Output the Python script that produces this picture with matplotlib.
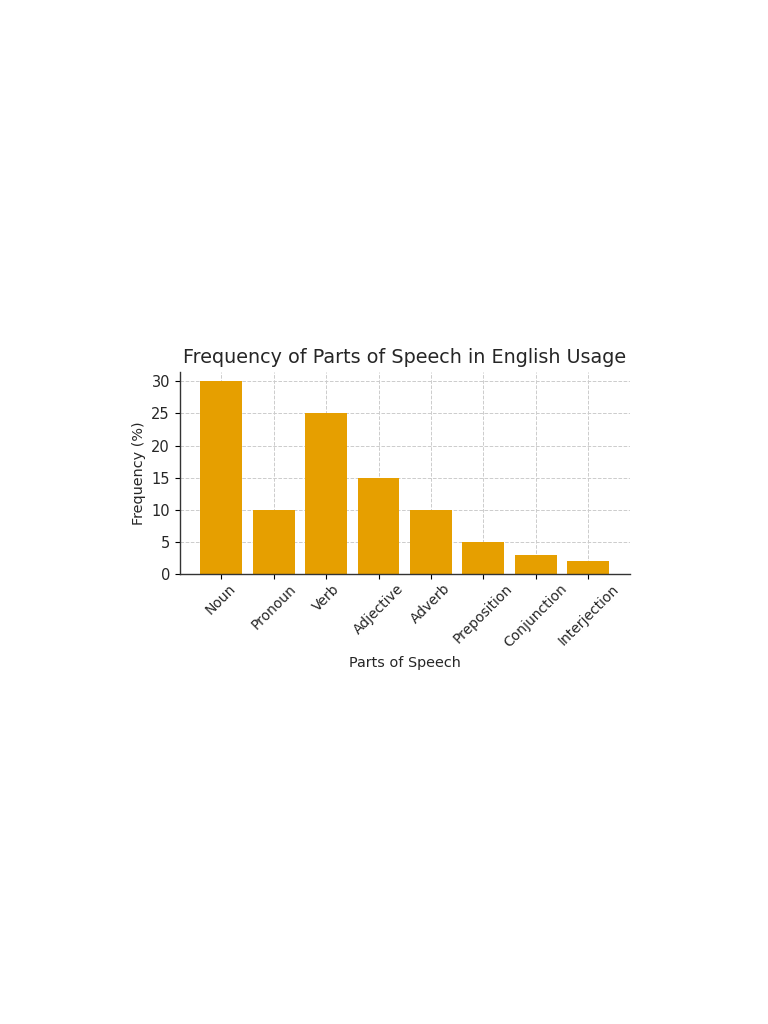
import matplotlib
matplotlib.use("Agg")
import matplotlib.pyplot as plt

categories = ["Noun", "Pronoun", "Verb", "Adjective", "Adverb", "Preposition", "Conjunction", "Interjection"]
values = [30, 10, 25, 15, 10, 5, 3, 2]

fig = plt.figure(figsize=(7.68, 10.24), dpi=100)
ax = fig.add_axes([0.234, 0.4395, 0.586, 0.1975])
ax.bar(range(len(categories)), values, width=0.8, color="#E69F00", zorder=2)
ax.set_xticks(range(len(categories)))
ax.set_xticklabels(categories, rotation=45, ha="center", fontsize=10, color="#262626")
ax.tick_params(axis="y", labelsize=10.5, labelcolor="#262626")
ax.tick_params(axis="x", pad=2)
ax.set_yticks([0, 5, 10, 15, 20, 25, 30])
ax.grid(True, linestyle="--", color="#cccccc", linewidth=0.7, zorder=0)
ax.set_axisbelow(True)
for s in ["top", "right"]:
    ax.spines[s].set_visible(False)
for s in ["left", "bottom"]:
    ax.spines[s].set_color("#333333")
    ax.spines[s].set_linewidth(1.0)
ax.set_title("Frequency of Parts of Speech in English Usage", fontsize=13.75, color="#262626")
ax.set_xlabel("Parts of Speech", fontsize=10.4, color="#262626")
ax.set_ylabel("Frequency (%)", fontsize=10.4, color="#262626")
fig.savefig("out.png", dpi=100)
